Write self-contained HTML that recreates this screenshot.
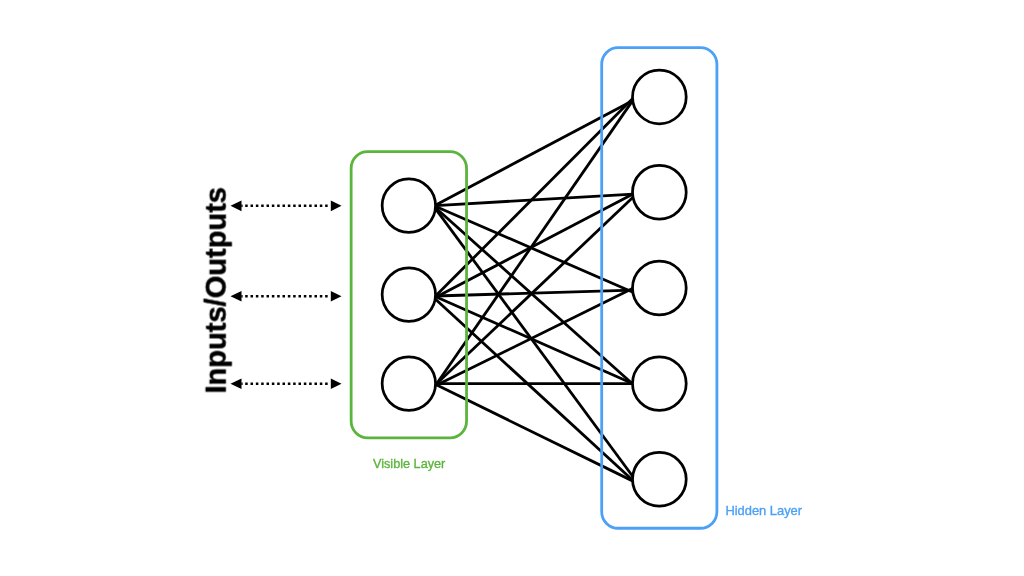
<!DOCTYPE html>
<html><head><meta charset="utf-8"><style>
html,body{margin:0;padding:0;background:#fff;}
body{width:1024px;height:576px;overflow:hidden;position:relative;font-family:"Liberation Sans",sans-serif;}
svg{position:absolute;left:0;top:0;}
.lbl{position:absolute;font-size:13px;line-height:1;white-space:nowrap;}
</style></head><body>
<svg width="1024" height="576" viewBox="0 0 1024 576">
<g stroke="#000" stroke-width="2.8" stroke-linecap="butt">
<line x1="435.8" y1="204.92" x2="633.0" y2="100.42"/>
<line x1="435.8" y1="205.56" x2="633.0" y2="194.04"/>
<line x1="435.8" y1="206.41" x2="633.0" y2="292.27"/>
<line x1="435.8" y1="208.03" x2="633.0" y2="384.29"/>
<line x1="435.8" y1="209.08" x2="633.0" y2="476.77"/>
<line x1="435.8" y1="295.72" x2="633.0" y2="98.22"/>
<line x1="435.8" y1="297.18" x2="633.0" y2="194.11"/>
<line x1="435.8" y1="296.00" x2="633.0" y2="290.07"/>
<line x1="435.8" y1="296.74" x2="633.0" y2="383.69"/>
<line x1="435.8" y1="299.45" x2="633.0" y2="480.53"/>
<line x1="435.8" y1="384.95" x2="633.0" y2="100.17"/>
<line x1="435.8" y1="384.59" x2="633.0" y2="197.21"/>
<line x1="435.8" y1="385.61" x2="633.0" y2="288.23"/>
<line x1="435.8" y1="383.68" x2="633.0" y2="383.57"/>
<line x1="435.8" y1="384.59" x2="633.0" y2="481.13"/>
</g>
<g stroke="#000" stroke-width="2.75" fill="#fff">
<circle cx="408.85" cy="205.6" r="26.7"/>
<circle cx="408.85" cy="294.6" r="26.7"/>
<circle cx="408.85" cy="383.6" r="26.7"/>
<circle cx="659.35" cy="96.9" r="26.85"/>
<circle cx="659.35" cy="192.2" r="26.85"/>
<circle cx="659.35" cy="288.0" r="26.85"/>
<circle cx="659.35" cy="383.6" r="26.85"/>
<circle cx="659.35" cy="479.2" r="26.85"/>
</g>
<rect x="351.15" y="151.65" width="115.4" height="286.15" rx="16.5" ry="16.5" fill="none" stroke="#5bb53d" stroke-width="2.8"/>
<rect x="601.7" y="47.65" width="115.2" height="480.6" rx="16.5" ry="16.5" fill="none" stroke="#4ca1f7" stroke-width="2.8"/>
<line x1="245.2" y1="205.85" x2="328.5" y2="205.85" stroke="#000" stroke-width="2.5" stroke-dasharray="2.5 2.83"/>
<rect x="241.3" y="204.6" width="1.3" height="2.5" fill="#000"/>
<polygon points="230.5,205.85 241.5,200.54999999999998 241.5,211.15" fill="#000"/>
<polygon points="341.5,205.85 330.8,200.54999999999998 330.8,211.15" fill="#000"/>
<line x1="245.2" y1="296.3" x2="328.5" y2="296.3" stroke="#000" stroke-width="2.5" stroke-dasharray="2.5 2.83"/>
<rect x="241.3" y="295.05" width="1.3" height="2.5" fill="#000"/>
<polygon points="230.5,296.3 241.5,291.0 241.5,301.6" fill="#000"/>
<polygon points="341.5,296.3 330.8,291.0 330.8,301.6" fill="#000"/>
<line x1="245.2" y1="383.75" x2="328.5" y2="383.75" stroke="#000" stroke-width="2.5" stroke-dasharray="2.5 2.83"/>
<rect x="241.3" y="382.5" width="1.3" height="2.5" fill="#000"/>
<polygon points="230.5,383.75 241.5,378.45 241.5,389.05" fill="#000"/>
<polygon points="341.5,383.75 330.8,378.45 330.8,389.05" fill="#000"/>

<text id="io" style="will-change:transform" transform="translate(225.7,393.5) rotate(-90)" font-family="Liberation Sans" font-weight="bold" font-size="29" stroke="#000" stroke-width="0.5" textLength="206.5" lengthAdjust="spacingAndGlyphs" fill="#000">Inputs/Outputs</text>
<text id="vl" style="will-change:transform" stroke="#5bb53d" stroke-width="0.35" x="373.0" y="467.7" font-family="Liberation Sans" font-size="13" fill="#5bb53d" textLength="72.3" lengthAdjust="spacingAndGlyphs">Visible Layer</text>
<text id="hl" style="will-change:transform" stroke="#4ca1f7" stroke-width="0.35" x="725.4" y="515.3" font-family="Liberation Sans" font-size="13" fill="#4ca1f7" textLength="76.7" lengthAdjust="spacingAndGlyphs">Hidden Layer</text>
</svg>
</body></html>
